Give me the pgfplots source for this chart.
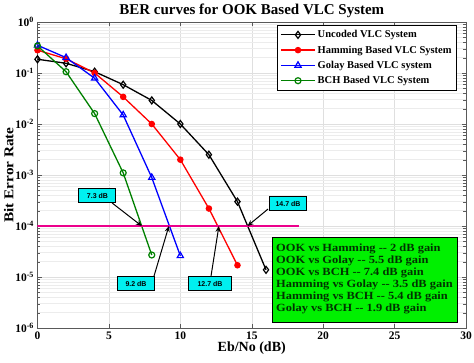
\documentclass[border=0pt]{standalone}
\usepackage{pgfplots}
\pgfplotsset{compat=1.18}
\usepackage{fontspec}
\setmainfont{Liberation Serif}
\newfontfamily\boxfont{Liberation Sans}
\newfontfamily\widefont[FakeStretch=1.13]{Liberation Serif}
\usetikzlibrary{arrows.meta}
\definecolor{bchgreen}{RGB}{0,128,0}
\definecolor{boxgreen}{RGB}{0,240,0}
\definecolor{boxcyan}{RGB}{0,240,240}
\begin{document}
\begin{tikzpicture}
\begin{axis}[
  scale only axis, width=428.5pt, height=306pt,
  ymode=log, xmin=0, xmax=30, ymin=1e-6, ymax=1,
  xtick={0,5,10,15,20,25,30}, xticklabels={0,5,10,15,20,25,30},
  ytick={1e-6,1e-5,1e-4,1e-3,1e-2,1e-1,1},
  yticklabels={10\textsuperscript{-6},10\textsuperscript{-5},10\textsuperscript{-4},10\textsuperscript{-3},10\textsuperscript{-2},10\textsuperscript{-1},10\textsuperscript{0}},
  tick label style={font=\fontsize{11.5}{12}\selectfont\bfseries},
  grid=both, major grid style={gray!25}, minor grid style={gray!15},
  minor x tick num=0,
  axis line style={gray!70!black},
  tick style={gray!70!black},
  tick align=inside,
  title={\fontsize{15}{16}\selectfont\bfseries BER curves for OOK Based VLC System},
  title style={yshift=-5pt},
  xlabel={\fontsize{14}{15}\selectfont\bfseries Eb/No (dB)},
  ylabel={\widefont\fontsize{13.5}{15}\selectfont\bfseries Bit Error Rate},
  xlabel style={yshift=4pt},
  ylabel style={yshift=-5pt},
  legend style={at={(rel axis cs:0.979,0.99)}, anchor=north east,
    draw=black, line width=0.8pt, fill=white,
    font=\fontsize{10.5}{11}\selectfont\bfseries, row sep=2.5pt,
    inner sep=3pt},
  legend cell align=left,
  legend image code/.code={\draw[mark repeat=2,mark phase=2] plot coordinates {(0cm,0cm)(0.6cm,0cm)(1.2cm,0cm)};},
]
\addplot[black, line width=1.3pt, mark=diamond, mark size=3.5pt, mark options={solid, line width=1.2pt, fill=white}]
  coordinates {(0,0.186)(2,0.155)(4,0.106)(6,0.059)(8,0.029)(10,0.010)(12,0.0025)(14,3.0e-4)(16,1.38e-5)};
\addlegendentry{Uncoded VLC System}
\addplot[red, line width=1.3pt, mark=*, mark size=2.6pt]
  coordinates {(0,0.28)(2,0.19)(4,0.10)(6,0.034)(8,0.010)(10,0.0020)(12,2.2e-4)(14,1.7e-5)};
\addlegendentry{Hamming Based VLC System}
\addplot[blue, line width=1.3pt, mark=triangle, mark size=3.6pt, mark options={solid, line width=1.2pt, fill=white}]
  coordinates {(0,0.35)(2,0.20)(4,0.079)(6,0.015)(8,8.9e-4)(10,2.6e-5)};
\addlegendentry{Golay Based VLC system}
\addplot[bchgreen, line width=1.3pt, mark=o, mark size=3pt, mark options={solid, line width=1.2pt, fill=white}]
  coordinates {(0,0.34)(2,0.106)(4,0.016)(6,1.1e-3)(8,2.7e-5)};
\addlegendentry{BCH Based VLC System}
\addplot[magenta, line width=1.8pt, forget plot] coordinates {(0,1e-4)(18.3,1e-4)};

% annotation arrows
\draw[black, line width=1pt, -{Stealth[length=6pt,width=5pt]}] (axis cs:5.22,2.83e-4) -- (axis cs:7.3,1e-4);
\draw[black, line width=1pt, -{Stealth[length=6pt,width=5pt]}] (axis cs:16.14,2.15e-4) -- (axis cs:14.7,1e-4);
\draw[black, line width=1pt, -{Stealth[length=6pt,width=5pt]}] (axis cs:8.16,1.05e-5) -- (axis cs:9.2,1e-4);
\draw[black, line width=1pt, -{Stealth[length=6pt,width=5pt]}] (axis cs:12.15,1.05e-5) -- (axis cs:12.7,1e-4);

\tikzset{cbox/.style={draw=black, line width=1pt, fill=boxcyan, font=\boxfont\fontsize{7}{8}\selectfont\bfseries, minimum width=37pt, minimum height=14pt, inner sep=2pt}}
\node[cbox] at (axis cs:4.20,3.96e-4) {7.3 dB};
\node[cbox] at (axis cs:17.54,2.76e-4) {14.7 dB};
\node[cbox] at (axis cs:6.90,7.3e-6) {9.2 dB};
\node[cbox, minimum width=43pt] at (axis cs:12.08,7.3e-6) {12.7 dB};

% gain box
\draw[black, line width=1pt, fill=boxgreen] (axis cs:16.42,6.08e-5) rectangle (axis cs:29.38,1.26e-6);
\node[anchor=north west, align=left, inner sep=0pt, font=\widefont\fontsize{11}{12}\selectfont\bfseries, text=black!80!green]
  at (axis cs:16.7,4.6e-5) {OOK vs Hamming -{}- 2 dB gain\\OOK vs Golay -{}- 5.5 dB gain\\OOK vs BCH -{}- 7.4 dB gain\\Hamming vs Golay -{}- 3.5 dB gain\\Hamming vs BCH -{}- 5.4 dB gain\\Golay vs BCH -{}- 1.9 dB gain};
\end{axis}
\pgfresetboundingbox
\path (-37.5pt,-35pt) rectangle (436.5pt,328pt);
\end{tikzpicture}
\end{document}
